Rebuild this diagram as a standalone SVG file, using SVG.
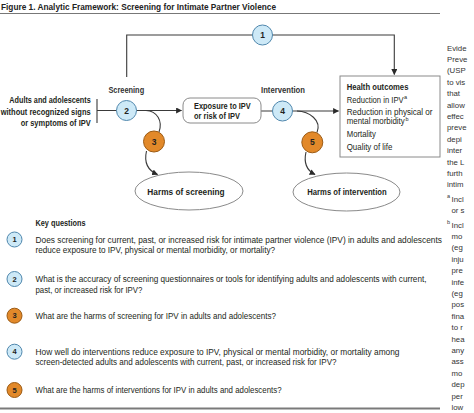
<svg xmlns="http://www.w3.org/2000/svg" width="474" height="413" viewBox="0 0 474 413">
<defs>
<style>
text{font-family:"Liberation Sans",Arial,sans-serif;fill:#231f20;font-size:9px}
.b{font-weight:bold}
.num{font-weight:bold;font-size:8.5px;text-anchor:middle}
.kn{font-weight:bold;font-size:7.5px;text-anchor:middle}
.blue{fill:#cde9f7;stroke:#4f87ad;stroke-width:1}
.orng{fill:#e2892a;stroke:#9c5a12;stroke-width:1}
.con{fill:none;stroke:#3a3a3a;stroke-width:1.1}
.shape{fill:#fff;stroke:#8a8a8a;stroke-width:1}
.side{font-size:7.8px;fill:#333}
.sup{font-size:5.5px}
</style>
<marker id="ah" viewBox="0 0 10 10" refX="9" refY="5" markerWidth="6" markerHeight="6" orient="auto" markerUnits="userSpaceOnUse">
<path d="M0,0 L10,5 L0,10 z" fill="#2a2a2a"/>
</marker>
</defs>
<rect width="474" height="413" fill="#fff"/>

<g id="title">
<text x="1" y="9.5" class="b" textLength="275" lengthAdjust="spacingAndGlyphs" style="font-size:9.5px;fill:#222">Figure 1. Analytic Framework: Screening for Intimate Partner Violence</text>
<line x1="0" y1="13.5" x2="440" y2="13.5" stroke="#777" stroke-width="1"/>
</g>

<g id="connectors">
<path class="con" d="M126.7,77 V35 H394.3 V74.5" marker-end="url(#ah)"/>
<path class="con" d="M97,99 V123"/>
<path class="con" d="M97,110.5 H181.5" marker-end="url(#ah)"/>
<path class="con" d="M261,111 H338.5" marker-end="url(#ah)"/>
<path class="con" d="M146,110.5 C157,111 163,121 159,132"/>
<path class="con" d="M146.5,151 C144,162 147,170 157.5,174.5" marker-end="url(#ah)"/>
<path class="con" d="M297,111 C309,111.5 322,120 317,132.5"/>
<path class="con" d="M306,152 C303.5,163 306,170 315,174.5" marker-end="url(#ah)"/>
</g>

<g id="kq1-node">
<circle class="blue" cx="262.5" cy="35" r="10"/>
<text class="num" x="262.5" y="38">1</text>
</g>

<g id="population">
<text class="b" x="90.7" y="103" text-anchor="end" textLength="81.4" lengthAdjust="spacingAndGlyphs">Adults and adolescents</text>
<text class="b" x="90.7" y="114.5" text-anchor="end" textLength="90" lengthAdjust="spacingAndGlyphs">without recognized signs</text>
<text class="b" x="90.7" y="126" text-anchor="end" textLength="70" lengthAdjust="spacingAndGlyphs">or symptoms of IPV</text>
</g>

<g id="screening">
<text class="b" x="126.3" y="92.5" text-anchor="middle" textLength="35.7" lengthAdjust="spacingAndGlyphs" style="fill:#333">Screening</text>
<circle class="blue" cx="126.5" cy="110.5" r="10"/>
<text class="num" x="126.5" y="113.5">2</text>
</g>

<g id="exposure">
<rect class="shape" x="183" y="98" width="78" height="25" rx="7"/>
<text class="b" x="194" y="108.5" textLength="56.7" lengthAdjust="spacingAndGlyphs">Exposure to IPV</text>
<text class="b" x="194" y="118.5" textLength="46" lengthAdjust="spacingAndGlyphs">or risk of IPV</text>
</g>

<g id="intervention">
<text class="b" x="283" y="92.5" text-anchor="middle" textLength="44" lengthAdjust="spacingAndGlyphs" style="fill:#333">Intervention</text>
<circle class="blue" cx="282.5" cy="111" r="10"/>
<text class="num" x="282.5" y="114">4</text>
</g>

<g id="health-outcomes">
<rect class="shape" x="340" y="76" width="100" height="81"/>
<text class="b" x="346.7" y="90" textLength="61.7" lengthAdjust="spacingAndGlyphs">Health outcomes</text>
<text transform="translate(346.7,102.5) scale(0.85,1)">Reduction in IPV</text>
<text class="sup" x="404" y="99">a</text>
<text transform="translate(346.7,114.5) scale(0.9,1)">Reduction in physical or</text>
<text transform="translate(346.7,124) scale(0.88,1)">mental morbidity</text>
<text class="sup" x="405.5" y="120.5">b</text>
<text transform="translate(346.7,136.5) scale(0.86,1)">Mortality</text>
<text transform="translate(346.7,150) scale(0.88,1)">Quality of life</text>
</g>

<g id="kq3-node">
<circle class="orng" cx="154" cy="141.5" r="10.5"/>
<text class="num" x="154" y="144.5">3</text>
</g>

<g id="kq5-node">
<circle class="orng" cx="312.3" cy="142.3" r="10.5"/>
<text class="num" x="312.3" y="145.3">5</text>
</g>

<g id="harms-screening">
<ellipse class="shape" cx="189" cy="191" rx="54" ry="19"/>
<text class="b" x="186" y="194.5" text-anchor="middle" textLength="77.3" lengthAdjust="spacingAndGlyphs">Harms of screening</text>
</g>

<g id="harms-intervention">
<ellipse class="shape" cx="346.5" cy="192" rx="53.5" ry="19"/>
<text class="b" x="347" y="194.5" text-anchor="middle" textLength="79.4" lengthAdjust="spacingAndGlyphs">Harms of intervention</text>
</g>

<g id="key-questions">
<text class="b" x="35.5" y="226" textLength="50" lengthAdjust="spacingAndGlyphs">Key questions</text>

<circle class="blue" cx="14.5" cy="239.5" r="7.5"/>
<text class="kn" x="14.5" y="242.2">1</text>
<text transform="translate(35.5,242.5) scale(0.926,1)">Does screening for current, past, or increased risk for intimate partner violence (IPV) in adults and adolescents</text>
<text transform="translate(35.5,253) scale(0.91,1)">reduce exposure to IPV, physical or mental morbidity, or mortality?</text>

<circle class="blue" cx="14.5" cy="279" r="7.5"/>
<text class="kn" x="14.5" y="281.7">2</text>
<text transform="translate(35.5,282) scale(0.91,1)">What is the accuracy of screening questionnaires or tools for identifying adults and adolescents with current,</text>
<text transform="translate(35.5,292.5) scale(0.87,1)">past, or increased risk for IPV?</text>

<circle class="orng" cx="14.5" cy="315.7" r="7.5"/>
<text class="kn" x="14.5" y="318.4">3</text>
<text x="35.5" y="318.7" textLength="240.5" lengthAdjust="spacingAndGlyphs">What are the harms of screening for IPV in adults and adolescents?</text>

<circle class="blue" cx="14.5" cy="351.7" r="7.5"/>
<text class="kn" x="14.5" y="354.4">4</text>
<text x="35.5" y="354.7" textLength="364" lengthAdjust="spacingAndGlyphs">How well do interventions reduce exposure to IPV, physical or mental morbidity, or mortality among</text>
<text x="35.5" y="365" textLength="301" lengthAdjust="spacingAndGlyphs">screen-detected adults and adolescents with current, past, or increased risk for IPV?</text>

<circle class="orng" cx="14.5" cy="390" r="7.5"/>
<text class="kn" x="14.5" y="392.7">5</text>
<text x="35.5" y="393" textLength="246" lengthAdjust="spacingAndGlyphs">What are the harms of interventions for IPV in adults and adolescents?</text>

<line x1="0" y1="408.5" x2="440" y2="408.5" stroke="#7a7a7a" stroke-width="2"/>
</g>

<g id="side-text">
<text class="side" x="447" y="50.5">Evide</text>
<text class="side" x="447" y="61.9">Preve</text>
<text class="side" x="447" y="73.3">(USP</text>
<text class="side" x="447" y="84.7">to vis</text>
<text class="side" x="447" y="96.1">that</text>
<text class="side" x="447" y="107.5">allow</text>
<text class="side" x="447" y="118.9">effec</text>
<text class="side" x="447" y="130.3">preve</text>
<text class="side" x="447" y="141.7">depi</text>
<text class="side" x="447" y="153.1">inter</text>
<text class="side" x="447" y="164.5">the L</text>
<text class="side" x="447" y="175.9">furth</text>
<text class="side" x="447" y="187.3">intim</text>
<text class="side sup" x="447" y="198">a</text>
<text class="side" x="451.5" y="201.7">Incl</text>
<text class="side" x="451.5" y="213.1">or s</text>
<text class="side sup" x="447" y="223.8">b</text>
<text class="side" x="451.5" y="227.5">Incl</text>
<text class="side" x="451.5" y="238.9">mo</text>
<text class="side" x="451.5" y="250.3">(eg</text>
<text class="side" x="451.5" y="261.7">inju</text>
<text class="side" x="451.5" y="273.1">pre</text>
<text class="side" x="451.5" y="284.5">infe</text>
<text class="side" x="451.5" y="295.9">(eg</text>
<text class="side" x="451.5" y="307.3">pos</text>
<text class="side" x="451.5" y="318.7">fina</text>
<text class="side" x="451.5" y="330.1">to r</text>
<text class="side" x="451.5" y="341.5">hea</text>
<text class="side" x="451.5" y="352.9">any</text>
<text class="side" x="451.5" y="364.3">ass</text>
<text class="side" x="451.5" y="375.7">mo</text>
<text class="side" x="451.5" y="387.1">dep</text>
<text class="side" x="451.5" y="398.5">per</text>
<text class="side" x="451.5" y="409.9">low</text>
</g>
</svg>
